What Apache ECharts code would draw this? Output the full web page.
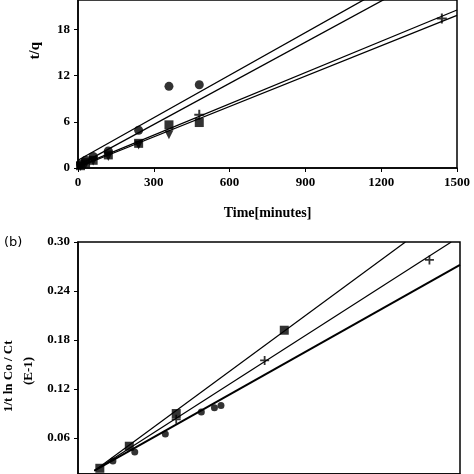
<!DOCTYPE html><html><head><meta charset="utf-8"><script src="https://cdn.jsdelivr.net/npm/echarts@6/dist/echarts.min.js"></script>
<style>body{margin:0;background:#fff}#c{width:474px;height:474px}</style></head><body><div id="c"></div><script>
// top panel (a)
const aCircles=[[10,0.5],[30,1],[60,1.5],[120,2.2],[240,4.9],[360,10.6],[480,10.8]];
const aSquares=[[10,0.3],[30,0.7],[60,1],[120,1.7],[240,3.2],[360,5.6],[480,5.9]];
const aTriangles=[[10,0.2],[30,0.5],[60,0.9],[120,1.5],[240,3.0],[360,4.3]];
const aPlus=[[480,6.9],[1440,19.4]];
const aLines=[[[0,1],[1168,22.5]],[[0,0.3],[1247,22.5]],[[0,0.2],[1500,20.5]],[[0,0.1],[1500,19.8]]];
const aXTicks=[0,300,600,900,1200,1500];
const aYTicks=[0,6,12,18];
// bottom panel (b)
const bSquares=[[20,0.023],[47,0.05],[90,0.09],[189,0.192]];
const bPlus=[[90,0.083],[171,0.155],[322,0.278]];
const bCircles=[[32,0.032],[52,0.043],[80,0.065],[113,0.092],[125,0.097],[131,0.1]];
const bLines=[[[15,0.02],[300,0.30]],[[15,0.02],[342,0.30]],[[15,0.02],[350,0.272]]];
const bYTicks=[0.06,0.12,0.18,0.24,0.30];
const serif='Liberation Serif';
const lab={fontFamily:serif,fontWeight:'bold',fontSize:13,color:'#000'};
const ax={lineStyle:{color:'#000',width:1.5}};
const cross='path://M4,0H6V4H10V6H6V10H4V6H0V4H4Z';
const series=[];
aLines.forEach(l=>series.push({type:'line',xAxisIndex:0,yAxisIndex:0,data:l,symbol:'none',lineStyle:{color:'#000',width:1.3},clip:true}));
series.push({type:'scatter',xAxisIndex:0,yAxisIndex:0,data:aCircles,symbol:'circle',symbolSize:9,itemStyle:{color:'#000'}});
series.push({type:'scatter',xAxisIndex:0,yAxisIndex:0,data:aSquares,symbol:'rect',symbolSize:9,itemStyle:{color:'#000'}});
series.push({type:'scatter',xAxisIndex:0,yAxisIndex:0,data:aTriangles,symbol:'triangle',symbolRotate:180,symbolSize:9,itemStyle:{color:'#000'}});
series.push({type:'scatter',xAxisIndex:0,yAxisIndex:0,data:aPlus,symbol:cross,symbolSize:10,itemStyle:{color:'#000'}});
bLines.forEach((l,i)=>series.push({type:'line',xAxisIndex:1,yAxisIndex:1,data:l,symbol:'none',lineStyle:{color:'#000',width:i==2?2:1.2},clip:true}));
series.push({type:'scatter',xAxisIndex:1,yAxisIndex:1,data:bSquares,symbol:'rect',symbolSize:9,itemStyle:{color:'#000'}});
series.push({type:'scatter',xAxisIndex:1,yAxisIndex:1,data:bPlus,symbol:cross,symbolSize:9,itemStyle:{color:'#000'}});
series.push({type:'scatter',xAxisIndex:1,yAxisIndex:1,data:bCircles,symbol:'circle',symbolSize:7,itemStyle:{color:'#000'}});
const ch=echarts.init(document.getElementById('c'));
ch.setOption({animation:false,
grid:[{left:78,right:17,top:0,bottom:306,show:true,borderColor:'#000',borderWidth:1.5},
{left:78,right:14,top:242,bottom:0,show:true,borderColor:'#000',borderWidth:1.5}],
xAxis:[{gridIndex:0,type:'value',min:0,max:1500,interval:300,axisLine:ax,axisTick:{show:true,length:4,lineStyle:{color:'#000'}},splitLine:{show:false},axisLabel:Object.assign({},lab,{formatter:v=>String(v)}),
 name:'Time[minutes]',nameLocation:'middle',nameGap:38,nameTextStyle:{fontFamily:serif,fontWeight:'bold',fontSize:14,color:'#000'}},
{gridIndex:1,type:'value',min:0,max:350,axisLine:ax,axisTick:{show:false},axisLabel:{show:false},splitLine:{show:false}}],
yAxis:[{gridIndex:0,type:'value',min:0,max:21.8,axisLine:ax,axisTick:{length:4,customValues:aYTicks,lineStyle:{color:'#000'}},splitLine:{show:false},axisLabel:Object.assign({},lab,{customValues:aYTicks})},
{gridIndex:1,type:'value',min:0.016,max:0.30,axisLine:ax,axisTick:{length:4,customValues:bYTicks,lineStyle:{color:'#000'}},splitLine:{show:false},axisLabel:Object.assign({},lab,{customValues:bYTicks,formatter:v=>v.toFixed(2)})}],
graphic:[
{type:'text',left:28,top:42,rotation:Math.PI/2,style:{text:'t/q',font:'bold 15px "Liberation Serif"',fill:'#000'}},
{type:'text',x:4,y:236,style:{text:'(b)',font:'13px "DejaVu Sans"',fill:'#000'}},
{type:'text',x:2,y:412,rotation:Math.PI/2,style:{text:'1/t ln Co / Ct',font:'bold 13px "Liberation Serif"',fill:'#000'}},
{type:'text',x:22,y:385,rotation:Math.PI/2,style:{text:'(E-1)',font:'bold 13px "Liberation Serif"',fill:'#000'}}
],
series});
</script></body></html>
